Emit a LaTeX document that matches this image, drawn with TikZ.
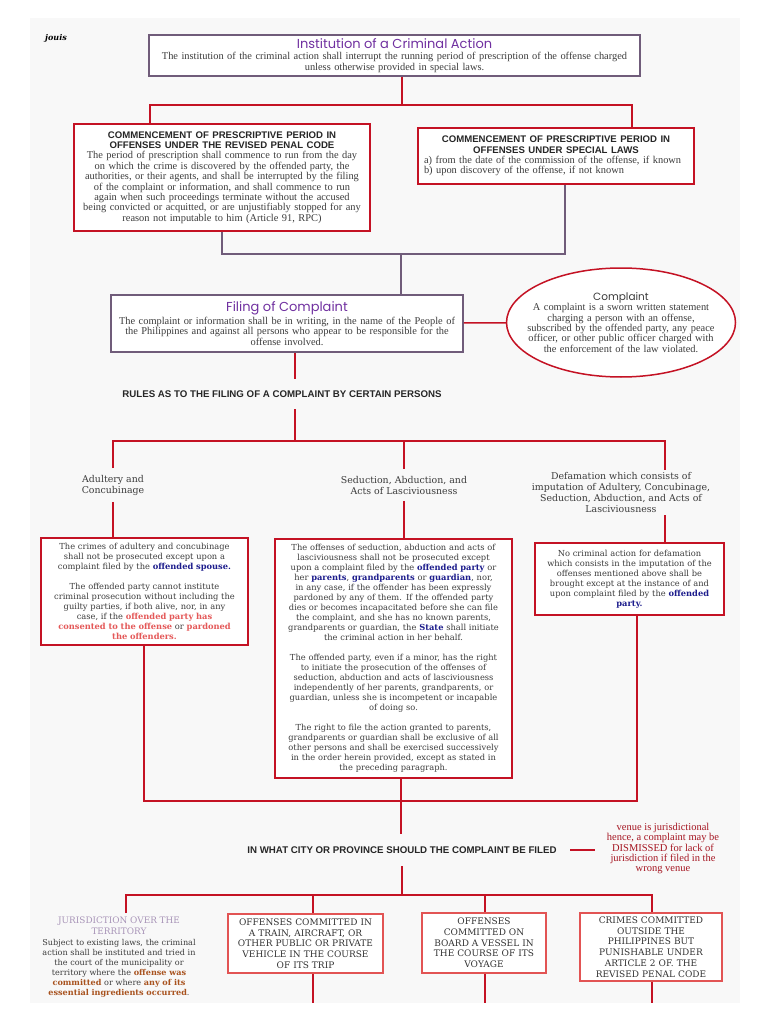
\documentclass[tikz,border=0pt]{standalone}
\usepackage{fontspec}
\setmainfont{Liberation Serif}
\newfontfamily\slabfont{DejaVu Serif}
\newfontfamily\headfont{Liberation Sans}
\newfontfamily\titlefont{Poppins}
\usetikzlibrary{shapes.geometric}

\definecolor{lineRed}{RGB}{196,18,36}
\definecolor{plum}{RGB}{112,92,122}
\definecolor{titleViolet}{RGB}{112,48,160}
\definecolor{inkGrey}{RGB}{60,60,60}
\definecolor{navyBold}{RGB}{28,28,140}
\definecolor{salmon}{RGB}{228,88,88}
\definecolor{venueRed}{RGB}{165,22,34}
\definecolor{lavender}{RGB}{168,148,184}
\definecolor{rust}{RGB}{168,82,30}
\definecolor{pinkRed}{RGB}{226,84,84}
\definecolor{paper}{RGB}{248,248,248}

\newcommand{\blueword}[1]{\textbf{\color{navyBold}#1}}
\newcommand{\pinkword}[1]{\textbf{\color{salmon}#1}}
\newcommand{\rustword}[1]{\textbf{\color{rust}#1}}
\newcommand{\boxtitle}[1]{{\titlefont\fontsize{13}{13.5}\selectfont\color{titleViolet}#1\par}\vspace{1pt}}
\newcommand{\boxhead}[1]{{\headfont\bfseries\fontsize{9.6}{10.4}\selectfont\color{black!85}#1\par}}

\begin{document}
\begin{tikzpicture}[
        x=1pt,
        y=-1pt,
        line width=1.5pt,
        plumbox/.style={draw=plum, fill=white, align=center, inner sep=3pt,
            font=\fontsize{10.4}{10.6}\selectfont},
        redbox/.style={draw=lineRed, fill=white, align=center, inner sep=4pt,
            font=\fontsize{10.4}{10.4}\selectfont},
        lawbox/.style={draw=lineRed, fill=white, align=center, inner sep=4pt,
            font=\slabfont\fontsize{8.3}{10}\selectfont},
        placebox/.style={draw=pinkRed, fill=white, align=center, inner sep=3pt,
            font=\slabfont\fontsize{9}{10.7}\selectfont, text=black!80},
        branchlabel/.style={align=center, font=\slabfont\fontsize{9.4}{11}\selectfont},
        rulecaption/.style={font=\headfont\bfseries\fontsize{9.7}{10}\selectfont, text=black!85},
        redline/.style={draw=lineRed},
        plumline/.style={draw=plum}
    ]

    \tikzstyle{every node}=[text=inkGrey]

    \useasboundingbox (0,0) rectangle (768,1024);
    \fill[paper] (30,18) rectangle (740,1003);

    \node[font=\slabfont\itshape\bfseries\fontsize{8}{8}\selectfont, text=black] (signature) at (56,38) {jouis};

    % prescription
    \node[plumbox, minimum width=491pt, minimum height=41pt, text width=485pt] (institution) at (394.5,55.5)
        {\boxtitle{Institution of a Criminal Action}The institution of the criminal action shall interrupt the running period of prescription of the offense charged\\
        unless otherwise provided in special laws.};

    \node[redbox, minimum width=296pt, minimum height=107pt, text width=288pt] (rpc) at (222,177.5)
        {\boxhead{COMMENCEMENT OF PRESCRIPTIVE PERIOD IN\\ OFFENSES UNDER THE REVISED PENAL CODE}The period of prescription shall commence to run from the day\\
        on which the crime is discovered by the offended party, the\\
        authorities, or their agents, and shall be interrupted by the filing\\
        of the complaint or information, and shall commence to run\\
        again when such proceedings terminate without the accused\\
        being convicted or acquitted, or are unjustifiably stopped for any\\
        reason not imputable to him (Article 91, RPC)};

    \node[redbox, align=left, minimum width=276pt, minimum height=56pt, text width=264pt, inner xsep=6pt] (spl) at (556,156)
        {\boxhead{\centering COMMENCEMENT OF PRESCRIPTIVE PERIOD IN\\ OFFENSES UNDER SPECIAL LAWS}a) from the date of the commission of the offense, if known\\
        b) upon discovery of the offense, if not known};

    % complaint
    \node[plumbox, minimum width=352pt, minimum height=57pt, text width=346pt] (filing) at (287,323.5)
        {\boxtitle{Filing of Complaint}The complaint or information shall be in writing, in the name of the People of\\
        the Philippines and against all persons who appear to be responsible for the\\
        offense involved.};

    \node[ellipse, draw=lineRed, fill=white, minimum width=229pt, minimum height=109pt,
          inner xsep=-25pt, inner ysep=0pt, text width=205pt, align=center,
          font=\fontsize{10.4}{10.3}\selectfont] (complaint) at (621,322.5)
        {{\titlefont\fontsize{10.5}{12}\selectfont Complaint\par}A complaint is a sworn written statement\\
        charging a person with an offense,\\
        subscribed by the offended party, any peace\\
        officer, or other public officer charged with\\
        the enforcement of the law violated.};

    \node[rulecaption, inner ysep=11pt] (rules) at (282,394) {RULES AS TO THE FILING OF A COMPLAINT BY CERTAIN PERSONS};

    % certain persons
    \node[branchlabel, inner ysep=6pt] (adulteryLabel) at (113,485) {Adultery and\\Concubinage};
    \node[branchlabel, inner ysep=6pt] (seductionLabel) at (404,485) {Seduction, Abduction, and\\Acts of Lasciviousness};
    \node[branchlabel, inner ysep=2pt] (defamationLabel) at (621,492.5)
        {Defamation which consists of\\imputation of Adultery, Concubinage,\\Seduction, Abduction, and Acts of\\Lasciviousness};

    \node[lawbox, minimum width=207pt, minimum height=107pt, text width=199pt] (adultery) at (144.5,591.5)
        {The crimes of adultery and concubinage\\
        shall not be prosecuted except upon a\\
        complaint filed by the \blueword{offended spouse.}\par\vspace{10pt}
        The offended party cannot institute\\
        criminal prosecution without including the\\
        guilty parties, if both alive, nor, in any\\
        case, if the \pinkword{offended party has}\\
        \pinkword{consented to the offense} or \pinkword{pardoned}\\
        \pinkword{the offenders.}};

    \node[lawbox, minimum width=237pt, minimum height=239pt, text width=229pt] (seduction) at (393.5,658.5)
        {The offenses of seduction, abduction and acts of\\
        lasciviousness shall not be prosecuted except\\
        upon a complaint filed by the \blueword{offended party} or\\
        her \blueword{parents}, \blueword{grandparents} or \blueword{guardian}, nor,\\
        in any case, if the offender has been expressly\\
        pardoned by any of them. If the offended party\\
        dies or becomes incapacitated before she can file\\
        the complaint, and she has no known parents,\\
        grandparents or guardian, the \blueword{State} shall initiate\\
        the criminal action in her behalf.\par\vspace{10pt}
        The offended party, even if a minor, has the right\\
        to initiate the prosecution of the offenses of\\
        seduction, abduction and acts of lasciviousness\\
        independently of her parents, grandparents, or\\
        guardian, unless she is incompetent or incapable\\
        of doing so.\par\vspace{10pt}
        The right to file the action granted to parents,\\
        grandparents or guardian shall be exclusive of all\\
        other persons and shall be exercised successively\\
        in the order herein provided, except as stated in\\
        the preceding paragraph.};

    \node[lawbox, minimum width=189pt, minimum height=72pt, text width=181pt] (defamation) at (629.5,579)
        {No criminal action for defamation\\
        which consists in the imputation of the\\
        offenses mentioned above shall be\\
        brought except at the instance of and\\
        upon complaint filed by the \blueword{offended}\\
        \blueword{party.}};

    % venue
    \node[rulecaption, inner ysep=12pt, inner xsep=13pt] (city) at (402,850) {IN WHAT CITY OR PROVINCE SHOULD THE COMPLAINT BE FILED};
    \node[align=center, text=venueRed, font=\fontsize{10.5}{10.3}\selectfont, inner xsep=11pt] (venue) at (663,848.5)
        {venue is jurisdictional\\hence, a complaint may be\\DISMISSED for lack of\\jurisdiction if filed in the\\wrong venue};

    \node[align=center, font=\slabfont\fontsize{8.1}{10}\selectfont, text width=170pt, inner ysep=3pt] (territory) at (119,957)
        {{\color{lavender}\fontsize{8.9}{11}\selectfont JURISDICTION OVER THE\\ TERRITORY\par}\vspace{1pt}
        Subject to existing laws, the criminal\\
        action shall be instituted and tried in\\
        the court of the municipality or\\
        territory where the \rustword{offense was}\\
        \rustword{committed} or where \rustword{any of its}\\
        \rustword{essential ingredients occurred}.};

    \node[placebox, minimum width=155pt, minimum height=59pt, text width=149pt] (train) at (305.5,943.5)
        {OFFENSES COMMITTED IN\\A TRAIN, AIRCRAFT, OR\\OTHER PUBLIC OR PRIVATE\\VEHICLE IN THE COURSE\\OF ITS TRIP};
    \node[placebox, minimum width=124pt, minimum height=60pt, text width=118pt] (vessel) at (484,943)
        {OFFENSES\\COMMITTED ON\\BOARD A VESSEL IN\\THE COURSE OF ITS\\VOYAGE};
    \node[placebox, minimum width=142pt, minimum height=68pt, text width=136pt] (abroad) at (651,947)
        {CRIMES COMMITTED\\OUTSIDE THE\\PHILIPPINES BUT\\PUNISHABLE UNDER\\ARTICLE 2 OF. THE\\REVISED PENAL CODE};

    % junctions
    \coordinate (topDrop) at (402,105);
    \coordinate (topLeft) at (150,105);
    \coordinate (topRight) at (632,105);
    \coordinate (midLeft) at (222,254);
    \coordinate (midRight) at (565,254);
    \coordinate (midDrop) at (401,254);
    \coordinate (ruleDrop) at (295,441);
    \coordinate (crimeLeft) at (113,441);
    \coordinate (crimeMid) at (404,441);
    \coordinate (crimeRight) at (665,441);
    \coordinate (joinLeft) at (144,801);
    \coordinate (joinMid) at (401,801);
    \coordinate (joinRight) at (637,801);
    \coordinate (venueDrop) at (402,895);
    \coordinate (placeLeft) at (126,895);
    \coordinate (placeTrain) at (313,895);
    \coordinate (placeVessel) at (485,895);
    \coordinate (placeAbroad) at (652,895);
    \coordinate (endTrain) at (313,1003);
    \coordinate (endVessel) at (485,1003);
    \coordinate (endAbroad) at (652,1003);

    \draw[redline] (institution.south -| topDrop) -- (topDrop);
    \draw[redline] (rpc.north -| topLeft) |- (topDrop) -| (spl.north -| topRight);
    \draw[plumline] (rpc.south -| midLeft) -- (midLeft) -- (midRight) -- (spl.south -| midRight);
    \draw[plumline] (midDrop) -- (filing.north -| midDrop);

    \path (filing) edge[redline] (complaint);
    \draw[redline] (filing.south -| ruleDrop) -- (rules.north -| ruleDrop);
    \draw[redline] (rules.south -| ruleDrop) -- (ruleDrop);
    \draw[redline] (adulteryLabel.north -| crimeLeft) |- (ruleDrop) -| (defamationLabel.north -| crimeRight);
    \draw[redline] (crimeMid) -- (seductionLabel.north -| crimeMid);
    \draw[redline] (adulteryLabel.south -| crimeLeft) -- (adultery.north -| crimeLeft);
    \draw[redline] (seductionLabel.south -| crimeMid) -- (seduction.north -| crimeMid);
    \draw[redline] (defamationLabel.south -| crimeRight) -- (defamation.north -| crimeRight);

    \draw[redline] (adultery.south -| joinLeft) -- (joinLeft) -- (joinRight) -- (defamation.south -| joinRight);
    \draw[redline] (seduction.south -| joinMid) -- (joinMid) -- (city.north -| joinMid);
    \draw[redline] (city.east) -- (city.east -| venue.west);
    \draw[redline] (city.south -| venueDrop) -- (venueDrop);
    \draw[redline] (territory.north -| placeLeft) |- (venueDrop) -| (abroad.north -| placeAbroad);
    \draw[redline] (placeTrain) -- (train.north -| placeTrain);
    \draw[redline] (placeVessel) -- (vessel.north -| placeVessel);
    \draw[redline] (train.south -| endTrain) -- (endTrain);
    \draw[redline] (vessel.south -| endVessel) -- (endVessel);
    \draw[redline] (abroad.south -| endAbroad) -- (endAbroad);
\end{tikzpicture}
\end{document}
